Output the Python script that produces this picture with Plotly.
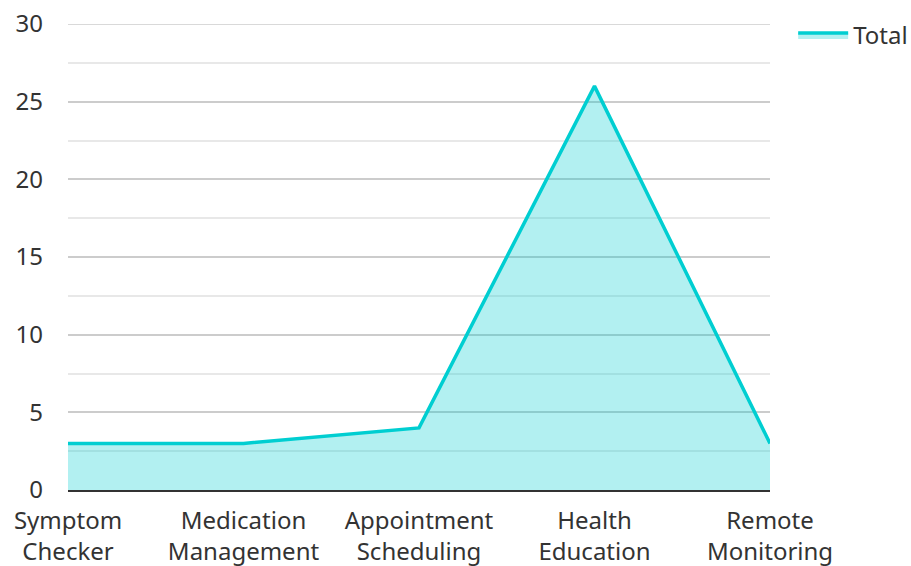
import plotly.graph_objects as go

categories = ["Symptom<br>Checker", "Medication<br>Management", "Appointment<br>Scheduling",
              "Health<br>Education", "Remote<br>Monitoring"]
totals = [3, 3, 4, 26, 3]
y_ticks = [0, 5, 10, 15, 20, 25, 30]

LINE = "#00CED1"
FILL = "rgba(0, 206, 209, 0.30)"
TEXT = "#333333"
FONT = "Noto Sans"
SIZE = 24

fig = go.Figure()
fig.add_trace(go.Scatter(
    x=categories, y=totals, name="Total", mode="lines",
    line=dict(color=LINE, width=3.5), fill="tozeroy", fillcolor=FILL,
))

# top grid line at the upper end of the value axis
fig.add_shape(type="line", xref="paper", x0=0, x1=1, yref="y", y0=y_ticks[-1], y1=y_ticks[-1],
              line=dict(color="#cccccc", width=1.5), layer="below")

fig.update_layout(
    width=911, height=566,
    margin=dict(l=68, r=141, t=24, b=76, autoexpand=False),
    paper_bgcolor="white", plot_bgcolor="white",
    font=dict(family=FONT, size=SIZE, color=TEXT),
    showlegend=True,
    legend=dict(x=1.033, y=1.024, xanchor="left", yanchor="top",
                itemwidth=50,
                font=dict(family=FONT, size=SIZE, color=TEXT),
                bgcolor="rgba(0,0,0,0)"),
    xaxis=dict(
        type="category", range=[0, len(categories) - 1],
        showgrid=False, zeroline=False, automargin=False,
        showline=True, linecolor="#333333", linewidth=2,
        ticks="", ticklabelstandoff=8,
        tickfont=dict(size=SIZE, color=TEXT),
    ),
    yaxis=dict(
        range=[0, 30], tickvals=y_ticks, automargin=False,
        showgrid=True, gridcolor="#cccccc", gridwidth=1.5,
        minor=dict(dtick=2.5, showgrid=True, gridcolor="#e8e8e8", gridwidth=1.5),
        zeroline=False, showline=False,
        ticks="", ticklabelstandoff=24,
        tickfont=dict(size=SIZE, color=TEXT),
    ),
)

fig.write_html("out.html")
